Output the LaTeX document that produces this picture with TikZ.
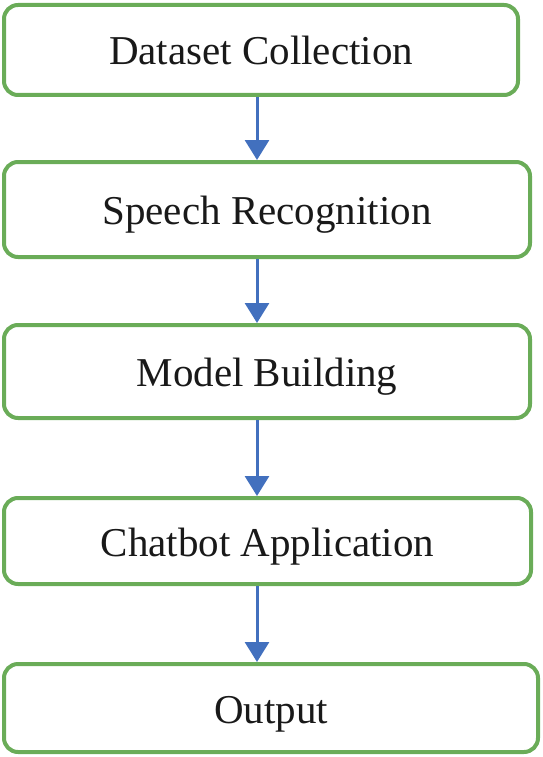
\documentclass[tikz,border=0pt]{standalone}
\usepackage{fontspec}
\setmainfont{Liberation Serif}
\usepackage{tikz}
\usetikzlibrary{arrows.meta, positioning}
\definecolor{boxgreen}{RGB}{106,172,88}
\definecolor{arrowblue}{RGB}{66,112,190}
\newcommand{\stepfont}{\fontsize{41}{49}\selectfont}

\begin{document}
\begin{tikzpicture}[
      % GLOBAL CFG
      x=1pt, y=-1pt,
      font=\stepfont,
      % Styles
      stage/.style={% For the pipeline stages
        rectangle,
        rounded corners=14pt,
        draw=boxgreen,
        line width=4pt,
        text=black!90,
        text height=35pt,
        text depth=5pt,
        inner sep=0pt
      },
      arrowstage/.style={% Arrows between stages
        arrowblue,
        line width=3pt,
        -{Triangle[width=24pt,length=20pt]}
      }
      ]
      \useasboundingbox (0,0) rectangle (542,757);

      % Draw the stages:
      \node [stage, minimum width=514pt, minimum height=90pt] (dataset) at (261,50){Dataset Collection} ;
      \node [stage, minimum width=526pt, minimum height=95pt] (speech) at (267,209.5){Speech Recognition} ;
      \node [stage, minimum width=526pt, minimum height=93pt] (model) at (267,371.5){Model Building} ;
      \node [stage, minimum width=527pt, minimum height=86pt] (chatbot) at (267.5,541){Chatbot Application} ;
      \node [stage, minimum width=534pt, minimum height=88pt] (output) at (271,708){Output} ;

      \coordinate (axis) at (257,0);

      \draw [arrowstage] (dataset.south -| axis) -- (speech.north -| axis);
      \draw [arrowstage] (speech.south -| axis) -- (model.north -| axis);
      \draw [arrowstage] (model.south -| axis) -- (chatbot.north -| axis);
      \draw [arrowstage] (chatbot.south -| axis) -- (output.north -| axis);
    \end{tikzpicture}
\end{document}
